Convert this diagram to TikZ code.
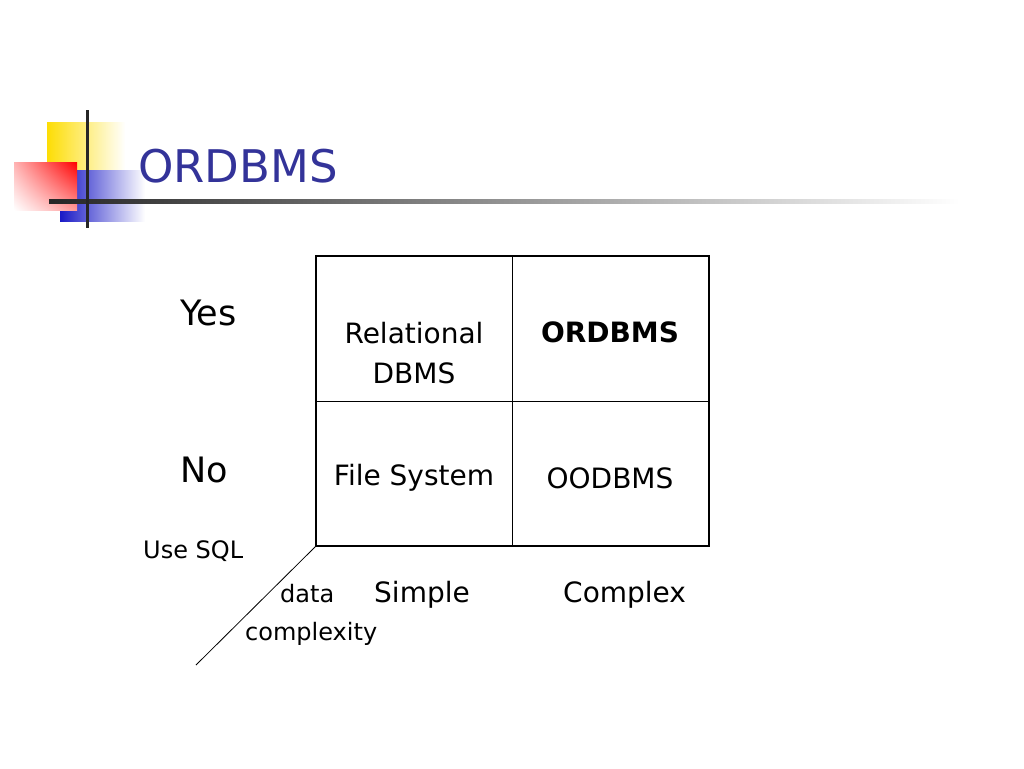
\documentclass[tikz,border=0pt]{standalone}
\usepackage{fontspec}
\setmainfont{DejaVu Sans}
\usetikzlibrary{fadings,shadings}
\definecolor{ttl}{HTML}{333399}
\begin{document}
\begin{tikzpicture}[x=1pt,y=-1pt,
  cell/.style={font=\fontsize{28}{40}\selectfont,align=center},
  lbl/.style={font=\fontsize{35}{40}\selectfont,anchor=base west},
  sml/.style={font=\fontsize{24}{28}\selectfont,anchor=base west}]
\useasboundingbox (0,0) rectangle (1024,768);
% logo
\fill[yellow!80!orange,path fading=east] (47,122) rectangle (125,170);
\fill[blue!75!black!90,path fading=east] (60,170) rectangle (145,222);
\shade[upper right=red,lower left=white,upper left=red!30,lower right=red!40] (14,162) rectangle (77,210);
\shade[left color=black!85,right color=white] (49,199) rectangle (960,203);
\fill[black!85] (85.5,110) rectangle (88.5,228);
\node[anchor=base west,text=ttl,font=\fontsize{45}{52}\selectfont,inner sep=0] (title) at (138,182) {ORDBMS};
% table
\draw[line width=1.5pt] (316,256) rectangle (709,546);
\draw[line width=1pt] (512,256) -- (512,546) (316,401) -- (709,401);
\node[cell] (c1) at (414,353) {Relational\\DBMS};
\node[cell,font=\fontsize{28}{40}\selectfont\bfseries] (c2) at (610,332) {ORDBMS};
\node[cell] (c3) at (414,478) {File System};
\node[cell] (c4) at (610,478) {OODBMS};
\node[lbl,inner sep=0] (yes) at (180,325) {Yes};
\node[lbl,inner sep=0] (no) at (180,482) {No};
\node[sml,inner sep=0] (sql) at (143,558) {Use SQL};
\node[sml,inner sep=0] (data) at (280,602) {data};
\node[sml,inner sep=0] (cx) at (245,640) {complexity};
\node[cell,anchor=base west,inner sep=0] (simple) at (374,602) {Simple};
\node[cell,anchor=base west,inner sep=0] (complex) at (563,602) {Complex};
\coordinate (corner) at (316,546);
\coordinate (tail) at (196,665);
\draw[line width=0.8pt] (corner) -- (tail);
\end{tikzpicture}
\end{document}
